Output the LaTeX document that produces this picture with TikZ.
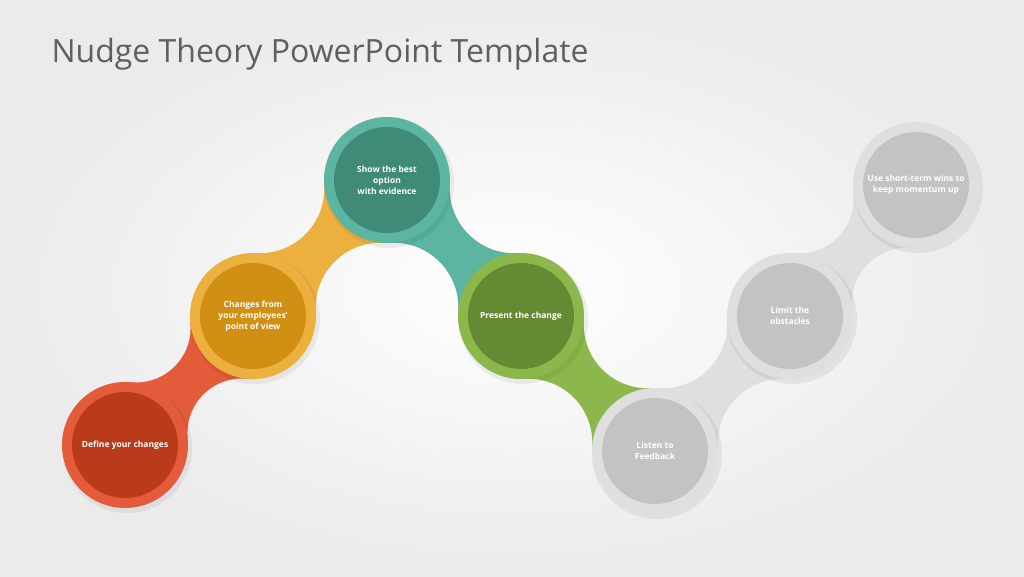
\documentclass[tikz,border=0pt]{standalone}
\usepackage{fontspec}
\setmainfont{Open Sans}
\usetikzlibrary{calc}
\definecolor{bg}{HTML}{F7F7F7}
\definecolor{rA}{HTML}{E35B3A}\definecolor{rB}{HTML}{B93B1C}
\definecolor{oA}{HTML}{ECB03F}\definecolor{oB}{HTML}{D18F14}
\definecolor{tA}{HTML}{5BB5A1}\definecolor{tB}{HTML}{3F8B78}
\definecolor{gA}{HTML}{8CB84B}\definecolor{gB}{HTML}{658A34}
\definecolor{yA}{HTML}{DFDFDF}\definecolor{yB}{HTML}{C3C3C3}
\definecolor{ttl}{HTML}{5F5F5F}
\tikzset{
 ring/.style={circle,minimum size=126pt,inner sep=0pt,fill=#1},
 core/.style={circle,minimum size=106pt,inner sep=0pt,fill=#1,text=white,align=center,font=\fontsize{8.5}{11}\selectfont\bfseries},
 shadow/.style={fill=black,opacity=0.06}
}
\newcommand\band[3]{%
 \path let \p1=($(#2)-(#1)$), \n1={veclen(\x1,\y1)/2} in
   \pgfextra{\pgfmathsetmacro\hh{(\n1*\n1-43*43)/86}\pgfmathsetmacro\RR{\hh-20}\xdef\hh{\hh}\xdef\RR{\RR}};
 \coordinate (M) at ($(#1)!0.5!(#2)$);
 \coordinate (K1) at ($(M)!\hh pt!90:(#2)$);
 \coordinate (K2) at ($(M)!\hh pt!-90:(#2)$);
 \coordinate (A1) at ($(#1)!63pt!(K1)$);
 \coordinate (A2) at ($(#1)!63pt!(K2)$);
 \coordinate (B1) at ($(#2)!63pt!(K1)$);
 \coordinate (B2) at ($(#2)!63pt!(K2)$);
 \begin{scope}
 \clip (#1)--(A1)--(B1)--(#2)--(B2)--(A2)--cycle;
 \fill[#3,even odd rule] ($(M)+(-220,-220)$) rectangle ($(M)+(220,220)$) (K1) circle[radius=\RR pt] (K2) circle[radius=\RR pt];
 \end{scope}}
\begin{document}
\begin{tikzpicture}[x=1pt,y=-1pt]
\useasboundingbox (0,0) rectangle (1024,576);
\shade[inner color=white,outer color=bg!90!gray] (0,0) rectangle (1024,576);
\node[anchor=west,text=ttl,font=\fontsize{32}{38}\selectfont] (title) at (48,54) {Nudge Theory PowerPoint Template};
\coordinate (p1) at (125,445);
\coordinate (p2) at (253,316);
\coordinate (p3) at (387,180);
\coordinate (p4) at (521,316);
\coordinate (p5) at (655,451);
\coordinate (p6) at (790,316);
\coordinate (p7) at (916,185);
\band{p1}{p2}{rA}
\band{p2}{p3}{oA}
\band{p3}{p4}{tA}
\band{p4}{p5}{gA}
\band{p5}{p6}{yA}
\band{p6}{p7}{yA}
\foreach \i/\a/\b/\t in {1/rA/rB/{Define your changes},2/oA/oB/{Changes from\\your employees'\\point of view},3/tA/tB/{Show the best\\option\\with evidence},4/gA/gB/{Present the change},5/yA/yB/{Listen to\\Feedback},6/yA/yB/{Limit the\\obstacles},7/yA/yB/{Use short-term wins to\\keep momentum up}}{
 \fill[shadow] ($(p\i)+(2,3)$) circle[radius=65];
 \node[ring=\a] (r\i) at (p\i) {};
 \node[core=\b] (c\i) at (p\i) {\t};
}
\end{tikzpicture}
\end{document}
